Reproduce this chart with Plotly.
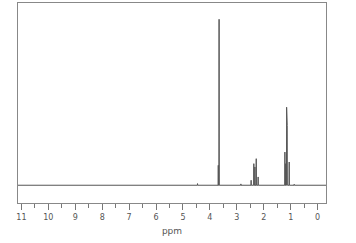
import plotly.graph_objects as go

# Peak list: chemical shift (ppm) and relative intensity
peak_ppm = [4.46, 3.69, 3.66, 2.85, 2.47, 2.37, 2.33, 2.28, 2.21, 1.216, 1.185, 1.152, 1.13, 1.056, 0.87]
peak_int = [1.0, 12, 100, 0.8, 3, 13, 11, 16, 5, 20, 13, 47, 36, 14, 0.6]

x_start, x_end = 11.126, -0.31
half_w = 0.006

# build stick-like spectrum line over a flat baseline
pairs = sorted(zip(peak_ppm, peak_int), reverse=True)
xs = [x_start]
ys = [0]
for p, h in pairs:
    xs += [p + half_w, p, p - half_w]
    ys += [0, h, 0]
xs.append(x_end)
ys.append(0)

fig = go.Figure()
fig.add_trace(go.Scatter(x=xs, y=ys, mode="lines",
                         line=dict(color="#555555", width=1), hoverinfo="skip"))

fig.update_layout(
    width=356, height=243,
    margin=dict(l=18, r=30, t=3, b=40),
    paper_bgcolor="white", plot_bgcolor="white",
    showlegend=False,
    font=dict(family="DejaVu Sans", size=8, color="#555"),
)
fig.update_xaxes(
    range=[x_start, x_end],
    tickvals=list(range(0, 12)),
    ticktext=[str(v) for v in range(0, 12)],
    ticks="outside", ticklen=6, tickcolor="#777", tickwidth=1,
    minor=dict(dtick=0.5, ticks="outside", ticklen=4, tickcolor="#777", showgrid=False),
    showline=True, linecolor="#888", linewidth=1, mirror=True,
    showgrid=False, zeroline=False,
    title=dict(text="ppm", font=dict(size=9, color="#555"), standoff=7),
    tickfont=dict(size=8, color="#555"),
)
fig.update_yaxes(
    range=[-10.7, 109.8],
    showticklabels=False, ticks="",
    showline=True, linecolor="#888", linewidth=1, mirror=True,
    showgrid=False, zeroline=False,
)

fig.write_html("out.html")
